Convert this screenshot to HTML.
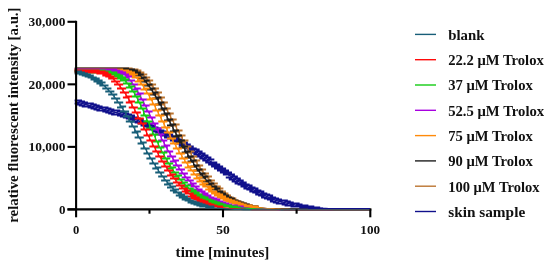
<!DOCTYPE html>
<html><head><meta charset="utf-8"><style>
html,body{margin:0;padding:0;background:#fff;}
svg{display:block;}
text{font-family:"Liberation Serif",serif;font-weight:bold;}
</style></head><body>
<svg width="550" height="264" viewBox="0 0 550 264">
<rect width="550" height="264" fill="#fff"/>
<path d="M67.5,209.4H371.4" stroke="#000" stroke-width="2.1" fill="none"/>
<defs><clipPath id="pc"><rect x="74.6" y="0" width="300" height="264"/></clipPath></defs>
<g clip-path="url(#pc)">
<g stroke="#10108c" fill="none">
<path d="M76.00,102.00 L78.94,102.74 L81.88,103.49 L84.82,104.25 L87.76,105.02 L90.70,105.79 L93.64,106.58 L96.58,107.37 L99.52,108.17 L102.46,108.97 L105.40,109.75 L108.34,110.52 L111.28,111.31 L114.22,112.11 L117.16,112.94 L120.10,113.81 L123.04,114.73 L125.98,115.72 L128.92,116.78 L131.86,117.94 L134.80,119.17 L137.74,120.47 L140.68,121.82 L143.62,123.23 L146.56,124.67 L149.50,126.15 L152.44,127.64 L155.38,129.14 L158.32,130.65 L161.26,132.14 L164.20,133.65 L167.14,135.18 L170.08,136.73 L173.02,138.30 L175.96,139.90 L178.90,141.52 L181.84,143.18 L184.78,144.87 L187.72,146.59 L190.66,148.34 L193.60,150.13 L196.54,151.97 L199.48,153.89 L202.42,155.89 L205.36,157.94 L208.30,160.02 L211.24,162.12 L214.18,164.22 L217.12,166.29 L220.06,168.41 L223.00,170.56 L225.94,172.72 L228.88,174.85 L231.82,176.95 L234.76,178.97 L237.70,180.91 L240.64,182.80 L243.58,184.60 L246.52,186.29 L249.46,187.86 L252.40,189.34 L255.34,190.78 L258.28,192.18 L261.22,193.59 L264.16,195.07 L267.10,196.55 L270.04,197.97 L272.98,199.23 L275.92,200.28 L278.86,201.15 L281.80,201.97 L284.74,202.73 L287.68,203.45 L290.62,204.11 L293.56,204.73 L296.50,205.30 L299.44,205.82 L302.38,206.29 L305.32,206.71 L308.26,207.10 L311.20,207.50 L314.14,207.87 L317.08,208.18 L320.02,208.40 L322.96,208.50 L325.90,208.52 L328.84,208.54 L331.78,208.56 L334.72,208.57 L337.66,208.58 L340.60,208.58 L343.54,208.59 L346.48,208.61 L349.42,208.62 L352.36,208.63 L355.30,208.64 L358.24,208.65 L361.18,208.66 L364.12,208.67 L367.06,208.68 L370.00,208.69" stroke-width="1.3"/>
<path d="M76.00,100.06V103.94M78.94,100.81V104.68M81.88,101.56V105.43M84.82,102.31V106.19M87.76,103.08V106.96M90.70,103.85V107.73M93.64,104.64V108.52M96.58,105.43V109.31M99.52,106.23V110.11M102.46,107.03V110.91M105.40,107.81V111.69M108.34,108.58V112.46M111.28,109.37V113.25M114.22,110.17V114.05M117.16,110.99V114.89M120.10,111.86V115.76M123.04,112.77V116.69M125.98,113.75V117.69M128.92,114.80V118.76M131.86,115.94V119.93M134.80,117.16V121.17M137.74,118.45V122.48M140.68,119.80V123.84M143.62,121.20V125.26M146.56,122.64V126.71M149.50,124.11V128.19M152.44,125.60V129.68M155.38,127.10V131.19M158.32,128.60V132.69M161.26,130.10V134.18M164.20,131.60V135.69M167.14,133.13V137.23M170.08,134.67V138.78M173.02,136.24V140.36M175.96,137.83V141.96M178.90,139.45V143.59M181.84,141.10V145.26M184.78,142.78V146.95M187.72,144.50V148.68M190.66,146.24V150.44M193.60,148.03V152.24M196.54,149.85V154.09M199.48,151.76V156.03M202.42,153.74V158.04M205.36,155.78V160.10M208.30,157.86V162.19M211.24,159.95V164.29M214.18,162.05V166.38M217.12,164.12V168.46M220.06,166.23V170.59M223.00,168.37V172.74M225.94,170.53V174.90M228.88,172.68V177.03M231.82,174.79V179.11M234.76,176.83V181.12M237.70,178.79V183.04M240.64,180.69V184.91M243.58,182.51V186.70M246.52,184.22V188.35M249.46,185.81V189.90M252.40,187.31V191.38M255.34,188.75V192.80M258.28,190.15V194.21M261.22,191.56V195.62M264.16,193.03V197.11M267.10,194.52V198.59M270.04,195.95V199.98M272.98,197.25V201.22M275.92,198.32V202.23M278.86,199.20V203.09M281.80,200.02V203.91M284.74,200.80V204.67M287.68,201.53V205.36M290.62,202.42V205.81M293.56,203.23V206.23M296.50,203.98V206.61M299.44,204.67V206.96M302.38,205.29V207.28M305.32,205.85V207.57M308.26,206.37V207.84M311.20,206.90V208.11M314.14,207.38V208.36M317.08,207.79V208.57M320.02,208.08V208.72" stroke-width="0.7"/>
<path d="M72.90,100.50h6.2M72.90,103.50h6.2M75.84,100.50h6.2M75.84,104.50h6.2M78.78,101.50h6.2M78.78,105.50h6.2M81.72,102.50h6.2M81.72,106.50h6.2M84.66,103.50h6.2M84.66,106.50h6.2M87.60,103.50h6.2M87.60,107.50h6.2M90.54,104.50h6.2M90.54,108.50h6.2M93.48,105.50h6.2M93.48,109.50h6.2M96.42,106.50h6.2M96.42,110.50h6.2M99.36,107.50h6.2M99.36,110.50h6.2M102.30,107.50h6.2M102.30,111.50h6.2M105.24,108.50h6.2M105.24,112.50h6.2M108.18,109.50h6.2M108.18,113.50h6.2M111.12,110.50h6.2M111.12,114.50h6.2M114.06,110.50h6.2M114.06,114.50h6.2M117.00,111.50h6.2M117.00,115.50h6.2M119.94,112.50h6.2M119.94,116.50h6.2M122.88,113.50h6.2M122.88,117.50h6.2M125.82,114.50h6.2M125.82,118.50h6.2M128.76,115.50h6.2M128.76,119.50h6.2M131.70,117.50h6.2M131.70,121.50h6.2M134.64,118.50h6.2M134.64,122.50h6.2M137.58,119.50h6.2M137.58,123.50h6.2M140.52,121.50h6.2M140.52,125.50h6.2M143.46,122.50h6.2M143.46,126.50h6.2M146.40,124.50h6.2M146.40,128.50h6.2M149.34,125.50h6.2M149.34,129.50h6.2M152.28,127.50h6.2M152.28,131.50h6.2M155.22,128.50h6.2M155.22,132.50h6.2M158.16,130.50h6.2M158.16,134.50h6.2M161.10,131.50h6.2M161.10,135.50h6.2M164.04,133.50h6.2M164.04,137.50h6.2M166.98,134.50h6.2M166.98,138.50h6.2M169.92,136.50h6.2M169.92,140.50h6.2M172.86,137.50h6.2M172.86,141.50h6.2M175.80,139.50h6.2M175.80,143.50h6.2M178.74,141.50h6.2M178.74,145.50h6.2M181.68,142.50h6.2M181.68,146.50h6.2M184.62,144.50h6.2M184.62,148.50h6.2M187.56,146.50h6.2M187.56,150.50h6.2M190.50,148.50h6.2M190.50,152.50h6.2M193.44,149.50h6.2M193.44,154.50h6.2M196.38,151.50h6.2M196.38,156.50h6.2M199.32,153.50h6.2M199.32,158.50h6.2M202.26,155.50h6.2M202.26,160.50h6.2M205.20,157.50h6.2M205.20,162.50h6.2M208.14,159.50h6.2M208.14,164.50h6.2M211.08,162.50h6.2M211.08,166.50h6.2M214.02,164.50h6.2M214.02,168.50h6.2M216.96,166.50h6.2M216.96,170.50h6.2M219.90,168.50h6.2M219.90,172.50h6.2M222.84,170.50h6.2M222.84,174.50h6.2M225.78,172.50h6.2M225.78,177.50h6.2M228.72,174.50h6.2M228.72,179.50h6.2M231.66,176.50h6.2M231.66,181.50h6.2M234.60,178.50h6.2M234.60,183.50h6.2M237.54,180.50h6.2M237.54,184.50h6.2M240.48,182.50h6.2M240.48,186.50h6.2M243.42,184.50h6.2M243.42,188.50h6.2M246.36,185.50h6.2M246.36,189.50h6.2M249.30,187.50h6.2M249.30,191.50h6.2M252.24,188.50h6.2M252.24,192.50h6.2M255.18,190.50h6.2M255.18,194.50h6.2M258.12,191.50h6.2M258.12,195.50h6.2M261.06,193.50h6.2M261.06,197.50h6.2M264.00,194.50h6.2M264.00,198.50h6.2M266.94,195.50h6.2M266.94,199.50h6.2M269.88,197.50h6.2M269.88,201.50h6.2M272.82,198.50h6.2M272.82,202.50h6.2M275.76,199.50h6.2M275.76,203.50h6.2M278.70,200.50h6.2M278.70,203.50h6.2M281.64,200.50h6.2M281.64,204.50h6.2M284.58,201.50h6.2M284.58,205.50h6.2M287.52,202.50h6.2M287.52,205.50h6.2M290.46,203.50h6.2M290.46,206.50h6.2M293.40,203.50h6.2M293.40,206.50h6.2M296.34,204.50h6.2M296.34,206.50h6.2M299.28,205.50h6.2M299.28,207.50h6.2M302.22,205.50h6.2M302.22,207.50h6.2M305.16,206.50h6.2M305.16,207.50h6.2M308.10,206.50h6.2M308.10,208.50h6.2M311.04,207.50h6.2M311.04,208.50h6.2M313.98,207.50h6.2M313.98,208.50h6.2M316.92,208.50h6.2M316.92,208.50h6.2" stroke-width="1.8"/>
</g>
<g stroke="#bb7430" fill="none">
<path d="M79.50,69.49 L82.44,69.49 L85.38,69.49 L88.32,69.49 L91.26,69.49 L94.20,69.49 L97.14,69.49 L100.08,69.49 L103.02,69.49 L105.96,69.49 L108.90,69.49 L111.84,69.49 L114.78,69.49 L117.72,69.49 L120.66,69.50 L123.60,69.51 L126.54,69.57 L129.48,69.72 L132.42,70.09 L135.36,70.82 L138.30,72.05 L141.24,73.88 L144.18,76.31 L147.12,79.31 L150.06,82.83 L153.00,86.81 L155.94,91.19 L158.88,95.90 L161.82,100.88 L164.76,106.09 L167.70,111.45 L170.64,116.92 L173.58,122.44 L176.52,127.97 L179.46,133.45 L182.40,138.85 L185.34,144.14 L188.28,149.27 L191.22,154.22 L194.16,158.96 L197.10,163.49 L200.04,167.77 L202.98,171.81 L205.92,175.59 L208.86,179.12 L211.80,182.39 L214.74,185.40 L217.68,188.17 L220.26,190.70 L222.77,192.99 L225.32,195.07 L227.91,196.94 L230.54,198.61 L233.20,200.11 L235.90,201.44 L238.62,202.61 L241.36,203.64 L244.14,204.55 L246.93,205.34 L249.74,206.02 L252.57,206.62 L255.41,207.13 L258.28,207.57 L261.22,207.94 L264.16,208.26 L267.10,208.53 L270.04,208.76 L272.98,208.95 L275.92,209.11 L278.86,209.24 L281.80,209.35 L284.74,209.44 L287.68,209.52 L290.62,209.58 L293.56,209.63 L296.50,209.67 L299.44,209.71 L302.38,209.73 L305.32,209.76 L308.26,209.77 L311.20,209.79 L314.14,209.80 L317.08,209.81 L320.02,209.81 L322.96,209.82 L325.90,209.82 L328.84,209.83 L331.78,209.83 L334.72,209.83 L337.66,209.83 L340.60,209.83 L343.54,209.83 L346.48,209.84 L349.42,209.84 L352.36,209.84 L355.30,209.84 L358.24,209.84 L361.18,209.84 L364.12,209.84 L367.06,209.84 L370.00,209.84" stroke-width="1.1"/>
<path d="M79.50,68.59V70.39M82.44,68.59V70.39M85.38,68.59V70.39M88.32,68.59V70.39M91.26,68.59V70.39M94.20,68.59V70.39M97.14,68.59V70.39M100.08,68.59V70.39M103.02,68.59V70.39M105.96,68.59V70.39M108.90,68.59V70.39M111.84,68.59V70.39M114.78,68.59V70.39M117.72,68.59V70.39M120.66,68.60V70.40M123.60,68.61V70.41M126.54,68.67V70.47M129.48,68.81V70.64M132.42,69.13V71.04M135.36,69.74V71.89M138.30,70.77V73.34M141.24,72.32V75.44M144.18,74.45V78.17M147.12,77.16V81.46M150.06,80.41V85.26M153.00,84.15V89.47M155.94,88.32V94.06M158.88,92.85V98.94M161.82,97.70V104.07M164.76,102.79V109.38M167.70,108.08V114.82M170.64,113.50V120.34M173.58,119.01V125.87M176.52,124.54V131.39M179.46,130.06V136.84M182.40,135.52V142.18M185.34,140.88V147.39M188.28,146.11V152.42M191.22,151.17V157.26M194.16,156.04V161.88M197.10,160.69V166.28M200.04,165.12V170.43M202.98,169.30V174.32M205.92,173.22V177.96M208.86,176.89V181.35M211.80,180.30V184.48M214.74,183.45V187.36M217.68,186.34V189.99M220.26,188.99V192.40M222.77,191.40V194.58M225.32,193.58V196.56M227.91,195.55V198.33M230.54,197.31V199.92M233.20,198.87V201.35M235.90,200.27V202.61M238.62,201.49V203.73M241.36,202.62V204.67M244.14,203.71V205.38M246.93,204.66V206.02M249.74,205.47V206.57M252.57,206.17V207.06M255.41,206.77V207.49" stroke-width="1.2"/>
<path d="M76.40,68.50h6.2M76.40,70.50h6.2M79.34,68.50h6.2M79.34,70.50h6.2M82.28,68.50h6.2M82.28,70.50h6.2M85.22,68.50h6.2M85.22,70.50h6.2M88.16,68.50h6.2M88.16,70.50h6.2M91.10,68.50h6.2M91.10,70.50h6.2M94.04,68.50h6.2M94.04,70.50h6.2M96.98,68.50h6.2M96.98,70.50h6.2M99.92,68.50h6.2M99.92,70.50h6.2M102.86,68.50h6.2M102.86,70.50h6.2M105.80,68.50h6.2M105.80,70.50h6.2M108.74,68.50h6.2M108.74,70.50h6.2M111.68,68.50h6.2M111.68,70.50h6.2M114.62,68.50h6.2M114.62,70.50h6.2M117.56,68.50h6.2M117.56,70.50h6.2M120.50,68.50h6.2M120.50,70.50h6.2M123.44,68.50h6.2M123.44,70.50h6.2M126.38,68.50h6.2M126.38,70.50h6.2M129.32,69.50h6.2M129.32,71.50h6.2M132.26,69.50h6.2M132.26,71.50h6.2M135.20,70.50h6.2M135.20,73.50h6.2M138.14,72.50h6.2M138.14,75.50h6.2M141.08,74.50h6.2M141.08,78.50h6.2M144.02,77.50h6.2M144.02,81.50h6.2M146.96,80.50h6.2M146.96,85.50h6.2M149.90,84.50h6.2M149.90,89.50h6.2M152.84,88.50h6.2M152.84,94.50h6.2M155.78,92.50h6.2M155.78,98.50h6.2M158.72,97.50h6.2M158.72,104.50h6.2M161.66,102.50h6.2M161.66,109.50h6.2M164.60,108.50h6.2M164.60,114.50h6.2M167.54,113.50h6.2M167.54,120.50h6.2M170.48,119.50h6.2M170.48,125.50h6.2M173.42,124.50h6.2M173.42,131.50h6.2M176.36,130.50h6.2M176.36,136.50h6.2M179.30,135.50h6.2M179.30,142.50h6.2M182.24,140.50h6.2M182.24,147.50h6.2M185.18,146.50h6.2M185.18,152.50h6.2M188.12,151.50h6.2M188.12,157.50h6.2M191.06,156.50h6.2M191.06,161.50h6.2M194.00,160.50h6.2M194.00,166.50h6.2M196.94,165.50h6.2M196.94,170.50h6.2M199.88,169.50h6.2M199.88,174.50h6.2M202.82,173.50h6.2M202.82,177.50h6.2M205.76,176.50h6.2M205.76,181.50h6.2M208.70,180.50h6.2M208.70,184.50h6.2M211.64,183.50h6.2M211.64,187.50h6.2M214.58,186.50h6.2M214.58,189.50h6.2M217.16,188.50h6.2M217.16,192.50h6.2M219.67,191.50h6.2M219.67,194.50h6.2M222.22,193.50h6.2M222.22,196.50h6.2M224.81,195.50h6.2M224.81,198.50h6.2M227.44,197.50h6.2M227.44,199.50h6.2M230.10,198.50h6.2M230.10,201.50h6.2M232.80,200.50h6.2M232.80,202.50h6.2M235.52,201.50h6.2M235.52,203.50h6.2M238.26,202.50h6.2M238.26,204.50h6.2M241.04,203.50h6.2M241.04,205.50h6.2M243.83,204.50h6.2M243.83,206.50h6.2M246.64,205.50h6.2M246.64,206.50h6.2M249.47,206.50h6.2M249.47,207.50h6.2M252.31,206.50h6.2M252.31,207.50h6.2" stroke-width="1.8"/>
</g>
<g stroke="#1e1e1e" fill="none">
<path d="M76.00,69.49 L78.94,69.49 L81.88,69.49 L84.82,69.49 L87.76,69.49 L90.70,69.49 L93.64,69.49 L96.58,69.49 L99.52,69.49 L102.46,69.49 L105.40,69.49 L108.34,69.49 L111.28,69.49 L114.22,69.49 L117.16,69.50 L120.10,69.51 L123.04,69.57 L125.98,69.72 L128.92,70.09 L131.86,70.82 L134.80,72.05 L137.74,73.88 L140.68,76.31 L143.62,79.31 L146.56,82.83 L149.50,86.81 L152.44,91.19 L155.38,95.90 L158.32,100.88 L161.26,106.09 L164.20,111.45 L167.14,116.92 L170.08,122.44 L173.02,127.97 L175.96,133.45 L178.90,138.85 L181.84,144.14 L184.78,149.27 L187.72,154.22 L190.66,158.96 L193.60,163.49 L196.54,167.77 L199.48,171.81 L202.42,175.59 L205.36,179.12 L208.30,182.39 L211.24,185.40 L214.18,188.17 L217.12,190.70 L220.06,192.99 L223.00,195.07 L225.94,196.94 L228.88,198.61 L231.82,200.11 L234.76,201.44 L237.70,202.61 L240.64,203.64 L243.58,204.55 L246.52,205.34 L249.46,206.02 L252.40,206.62 L255.34,207.13 L258.28,207.57 L261.22,207.94 L264.16,208.26 L267.10,208.53 L270.04,208.76 L272.98,208.95 L275.92,209.11 L278.86,209.24 L281.80,209.35 L284.74,209.44 L287.68,209.52 L290.62,209.58 L293.56,209.63 L296.50,209.67 L299.44,209.71 L302.38,209.73 L305.32,209.76 L308.26,209.77 L311.20,209.79 L314.14,209.80 L317.08,209.81 L320.02,209.81 L322.96,209.82 L325.90,209.82 L328.84,209.83 L331.78,209.83 L334.72,209.83 L337.66,209.83 L340.60,209.83 L343.54,209.83 L346.48,209.84 L349.42,209.84 L352.36,209.84 L355.30,209.84 L358.24,209.84 L361.18,209.84 L364.12,209.84 L367.06,209.84 L370.00,209.84" stroke-width="1.1"/>
<path d="M76.00,68.59V70.39M78.94,68.59V70.39M81.88,68.59V70.39M84.82,68.59V70.39M87.76,68.59V70.39M90.70,68.59V70.39M93.64,68.59V70.39M96.58,68.59V70.39M99.52,68.59V70.39M102.46,68.59V70.39M105.40,68.59V70.39M108.34,68.59V70.39M111.28,68.59V70.39M114.22,68.59V70.39M117.16,68.60V70.40M120.10,68.61V70.41M123.04,68.67V70.47M125.98,68.81V70.64M128.92,69.13V71.04M131.86,69.74V71.89M134.80,70.77V73.34M137.74,72.32V75.44M140.68,74.45V78.17M143.62,77.16V81.46M146.56,80.41V85.26M149.50,84.15V89.47M152.44,88.32V94.06M155.38,92.85V98.94M158.32,97.70V104.07M161.26,102.79V109.38M164.20,108.08V114.82M167.14,113.50V120.34M170.08,119.01V125.87M173.02,124.54V131.39M175.96,130.06V136.84M178.90,135.52V142.18M181.84,140.88V147.39M184.78,146.11V152.42M187.72,151.17V157.26M190.66,156.04V161.88M193.60,160.69V166.28M196.54,165.12V170.43M199.48,169.30V174.32M202.42,173.22V177.96M205.36,176.89V181.35M208.30,180.30V184.48M211.24,183.45V187.36M214.18,186.34V189.99M217.12,188.99V192.40M220.06,191.40V194.58M223.00,193.58V196.56M225.94,195.55V198.33M228.88,197.31V199.92M231.82,198.87V201.35M234.76,200.27V202.61M237.70,201.49V203.73M240.64,202.62V204.67M243.58,203.71V205.38M246.52,204.66V206.02M249.46,205.47V206.57M252.40,206.17V207.06M255.34,206.77V207.49" stroke-width="1.2"/>
<path d="M72.90,68.50h6.2M72.90,70.50h6.2M75.84,68.50h6.2M75.84,70.50h6.2M78.78,68.50h6.2M78.78,70.50h6.2M81.72,68.50h6.2M81.72,70.50h6.2M84.66,68.50h6.2M84.66,70.50h6.2M87.60,68.50h6.2M87.60,70.50h6.2M90.54,68.50h6.2M90.54,70.50h6.2M93.48,68.50h6.2M93.48,70.50h6.2M96.42,68.50h6.2M96.42,70.50h6.2M99.36,68.50h6.2M99.36,70.50h6.2M102.30,68.50h6.2M102.30,70.50h6.2M105.24,68.50h6.2M105.24,70.50h6.2M108.18,68.50h6.2M108.18,70.50h6.2M111.12,68.50h6.2M111.12,70.50h6.2M114.06,68.50h6.2M114.06,70.50h6.2M117.00,68.50h6.2M117.00,70.50h6.2M119.94,68.50h6.2M119.94,70.50h6.2M122.88,68.50h6.2M122.88,70.50h6.2M125.82,69.50h6.2M125.82,71.50h6.2M128.76,69.50h6.2M128.76,71.50h6.2M131.70,70.50h6.2M131.70,73.50h6.2M134.64,72.50h6.2M134.64,75.50h6.2M137.58,74.50h6.2M137.58,78.50h6.2M140.52,77.50h6.2M140.52,81.50h6.2M143.46,80.50h6.2M143.46,85.50h6.2M146.40,84.50h6.2M146.40,89.50h6.2M149.34,88.50h6.2M149.34,94.50h6.2M152.28,92.50h6.2M152.28,98.50h6.2M155.22,97.50h6.2M155.22,104.50h6.2M158.16,102.50h6.2M158.16,109.50h6.2M161.10,108.50h6.2M161.10,114.50h6.2M164.04,113.50h6.2M164.04,120.50h6.2M166.98,119.50h6.2M166.98,125.50h6.2M169.92,124.50h6.2M169.92,131.50h6.2M172.86,130.50h6.2M172.86,136.50h6.2M175.80,135.50h6.2M175.80,142.50h6.2M178.74,140.50h6.2M178.74,147.50h6.2M181.68,146.50h6.2M181.68,152.50h6.2M184.62,151.50h6.2M184.62,157.50h6.2M187.56,156.50h6.2M187.56,161.50h6.2M190.50,160.50h6.2M190.50,166.50h6.2M193.44,165.50h6.2M193.44,170.50h6.2M196.38,169.50h6.2M196.38,174.50h6.2M199.32,173.50h6.2M199.32,177.50h6.2M202.26,176.50h6.2M202.26,181.50h6.2M205.20,180.50h6.2M205.20,184.50h6.2M208.14,183.50h6.2M208.14,187.50h6.2M211.08,186.50h6.2M211.08,189.50h6.2M214.02,188.50h6.2M214.02,192.50h6.2M216.96,191.50h6.2M216.96,194.50h6.2M219.90,193.50h6.2M219.90,196.50h6.2M222.84,195.50h6.2M222.84,198.50h6.2M225.78,197.50h6.2M225.78,199.50h6.2M228.72,198.50h6.2M228.72,201.50h6.2M231.66,200.50h6.2M231.66,202.50h6.2M234.60,201.50h6.2M234.60,203.50h6.2M237.54,202.50h6.2M237.54,204.50h6.2M240.48,203.50h6.2M240.48,205.50h6.2M243.42,204.50h6.2M243.42,206.50h6.2M246.36,205.50h6.2M246.36,206.50h6.2M249.30,206.50h6.2M249.30,207.50h6.2M252.24,206.50h6.2M252.24,207.50h6.2" stroke-width="1.8"/>
</g>
<g stroke="#ff8a0a" fill="none">
<path d="M76.00,70.19 L78.94,70.19 L81.88,70.19 L84.82,70.19 L87.76,70.19 L90.70,70.19 L93.64,70.19 L96.58,70.19 L99.52,70.19 L102.46,70.19 L105.40,70.20 L108.34,70.21 L111.28,70.24 L114.22,70.30 L117.16,70.40 L120.10,70.60 L123.04,70.97 L125.98,71.60 L128.92,72.63 L131.86,74.18 L134.80,76.36 L137.74,79.21 L140.68,82.71 L143.62,86.82 L146.56,91.44 L149.50,96.46 L152.44,101.78 L155.38,107.32 L158.32,112.98 L161.26,118.70 L164.20,124.40 L167.14,130.05 L170.08,135.58 L173.02,140.96 L175.96,146.17 L178.90,151.17 L181.84,155.95 L184.78,160.50 L187.72,164.80 L190.66,168.84 L193.60,172.64 L196.54,176.18 L199.48,179.46 L202.42,182.51 L205.36,185.31 L208.30,187.89 L211.24,190.25 L214.18,192.40 L217.12,194.36 L220.06,196.13 L223.00,197.73 L225.94,199.17 L228.88,200.46 L231.82,201.62 L234.76,202.65 L237.70,203.57 L240.64,204.38 L243.58,205.10 L246.52,205.73 L249.46,206.29 L252.40,206.78 L255.34,207.21 L258.28,207.58 L261.22,207.90 L264.16,208.18 L267.10,208.43 L270.04,208.64 L272.98,208.82 L275.92,208.98 L278.86,209.11 L281.80,209.22 L284.74,209.32 L287.68,209.40 L290.62,209.47 L293.56,209.53 L296.50,209.58 L299.44,209.63 L302.38,209.66 L305.32,209.69 L308.26,209.72 L311.20,209.74 L314.14,209.76 L317.08,209.77 L320.02,209.78 L322.96,209.79 L325.90,209.80 L328.84,209.81 L331.78,209.81 L334.72,209.82 L337.66,209.82 L340.60,209.82 L343.54,209.83 L346.48,209.83 L349.42,209.83 L352.36,209.83 L355.30,209.83 L358.24,209.83 L361.18,209.83 L364.12,209.84 L367.06,209.84 L370.00,209.84" stroke-width="1.1"/>
<path d="M76.00,69.29V71.09M78.94,69.29V71.09M81.88,69.29V71.09M84.82,69.29V71.09M87.76,69.29V71.09M90.70,69.29V71.09M93.64,69.29V71.09M96.58,69.29V71.09M99.52,69.29V71.09M102.46,69.29V71.09M105.40,69.30V71.10M108.34,69.31V71.11M111.28,69.34V71.14M114.22,69.40V71.20M117.16,69.50V71.31M120.10,69.69V71.51M123.04,70.04V71.90M125.98,70.62V72.59M128.92,71.53V73.73M131.86,72.90V75.46M134.80,74.83V77.88M137.74,77.41V81.00M140.68,80.64V84.79M143.62,84.50V89.14M146.56,88.91V93.96M149.50,93.77V99.15M152.44,98.97V104.59M155.38,104.43V110.21M158.32,110.05V115.91M161.26,115.76V121.64M164.20,121.48V127.33M167.14,127.16V132.93M170.08,132.76V138.40M173.02,138.22V143.71M175.96,143.51V148.83M178.90,148.61V153.73M181.84,153.50V158.41M184.78,158.15V162.85M187.72,162.56V167.03M190.66,166.72V170.97M193.60,170.63V174.65M196.54,174.28V178.07M199.48,177.67V181.26M202.42,180.81V184.20M205.36,183.72V186.91M208.30,186.38V189.40M211.24,188.82V191.67M214.18,191.05V193.75M217.12,193.07V195.64M220.06,194.91V197.35M223.00,196.56V198.90M225.94,198.05V200.29M228.88,199.38V201.54M231.82,200.57V202.66M234.76,201.63V203.67M237.70,202.60V204.53M240.64,203.56V205.19M243.58,204.41V205.79M246.52,205.15V206.31M249.46,205.80V206.77M252.40,206.37V207.18M255.34,206.87V207.54" stroke-width="1.2"/>
<path d="M72.90,69.50h6.2M72.90,71.50h6.2M75.84,69.50h6.2M75.84,71.50h6.2M78.78,69.50h6.2M78.78,71.50h6.2M81.72,69.50h6.2M81.72,71.50h6.2M84.66,69.50h6.2M84.66,71.50h6.2M87.60,69.50h6.2M87.60,71.50h6.2M90.54,69.50h6.2M90.54,71.50h6.2M93.48,69.50h6.2M93.48,71.50h6.2M96.42,69.50h6.2M96.42,71.50h6.2M99.36,69.50h6.2M99.36,71.50h6.2M102.30,69.50h6.2M102.30,71.50h6.2M105.24,69.50h6.2M105.24,71.50h6.2M108.18,69.50h6.2M108.18,71.50h6.2M111.12,69.50h6.2M111.12,71.50h6.2M114.06,69.50h6.2M114.06,71.50h6.2M117.00,69.50h6.2M117.00,71.50h6.2M119.94,70.50h6.2M119.94,71.50h6.2M122.88,70.50h6.2M122.88,72.50h6.2M125.82,71.50h6.2M125.82,73.50h6.2M128.76,72.50h6.2M128.76,75.50h6.2M131.70,74.50h6.2M131.70,77.50h6.2M134.64,77.50h6.2M134.64,81.50h6.2M137.58,80.50h6.2M137.58,84.50h6.2M140.52,84.50h6.2M140.52,89.50h6.2M143.46,88.50h6.2M143.46,93.50h6.2M146.40,93.50h6.2M146.40,99.50h6.2M149.34,98.50h6.2M149.34,104.50h6.2M152.28,104.50h6.2M152.28,110.50h6.2M155.22,110.50h6.2M155.22,115.50h6.2M158.16,115.50h6.2M158.16,121.50h6.2M161.10,121.50h6.2M161.10,127.50h6.2M164.04,127.50h6.2M164.04,132.50h6.2M166.98,132.50h6.2M166.98,138.50h6.2M169.92,138.50h6.2M169.92,143.50h6.2M172.86,143.50h6.2M172.86,148.50h6.2M175.80,148.50h6.2M175.80,153.50h6.2M178.74,153.50h6.2M178.74,158.50h6.2M181.68,158.50h6.2M181.68,162.50h6.2M184.62,162.50h6.2M184.62,167.50h6.2M187.56,166.50h6.2M187.56,170.50h6.2M190.50,170.50h6.2M190.50,174.50h6.2M193.44,174.50h6.2M193.44,178.50h6.2M196.38,177.50h6.2M196.38,181.50h6.2M199.32,180.50h6.2M199.32,184.50h6.2M202.26,183.50h6.2M202.26,186.50h6.2M205.20,186.50h6.2M205.20,189.50h6.2M208.14,188.50h6.2M208.14,191.50h6.2M211.08,191.50h6.2M211.08,193.50h6.2M214.02,193.50h6.2M214.02,195.50h6.2M216.96,194.50h6.2M216.96,197.50h6.2M219.90,196.50h6.2M219.90,198.50h6.2M222.84,198.50h6.2M222.84,200.50h6.2M225.78,199.50h6.2M225.78,201.50h6.2M228.72,200.50h6.2M228.72,202.50h6.2M231.66,201.50h6.2M231.66,203.50h6.2M234.60,202.50h6.2M234.60,204.50h6.2M237.54,203.50h6.2M237.54,205.50h6.2M240.48,204.50h6.2M240.48,205.50h6.2M243.42,205.50h6.2M243.42,206.50h6.2M246.36,205.50h6.2M246.36,206.50h6.2M249.30,206.50h6.2M249.30,207.50h6.2M252.24,206.50h6.2M252.24,207.50h6.2" stroke-width="1.8"/>
</g>
<g stroke="#a800e0" fill="none">
<path d="M76.00,70.09 L78.94,70.09 L81.88,70.09 L84.82,70.09 L87.76,70.09 L90.70,70.09 L93.64,70.09 L96.58,70.10 L99.52,70.10 L102.46,70.12 L105.40,70.16 L108.34,70.24 L111.28,70.39 L114.22,70.69 L117.16,71.25 L120.10,72.19 L123.04,73.68 L125.98,75.83 L128.92,78.72 L131.86,82.34 L134.80,86.61 L137.74,91.45 L140.68,96.72 L143.62,102.32 L146.56,108.14 L149.50,114.09 L152.44,120.09 L155.38,126.06 L158.32,131.96 L161.26,137.72 L164.20,143.31 L167.14,148.69 L170.08,153.84 L173.02,158.73 L175.96,163.36 L178.90,167.72 L181.84,171.79 L184.78,175.58 L187.72,179.10 L190.66,182.34 L193.60,185.31 L196.54,188.03 L199.48,190.51 L202.42,192.76 L205.36,194.79 L208.30,196.62 L211.24,198.26 L214.18,199.73 L217.12,201.03 L220.06,202.19 L223.00,203.22 L225.94,204.12 L228.88,204.91 L231.82,205.61 L234.76,206.21 L237.70,206.74 L240.64,207.20 L243.58,207.60 L246.52,207.94 L249.46,208.23 L252.40,208.48 L255.34,208.70 L258.28,208.88 L261.22,209.04 L264.16,209.17 L267.10,209.28 L270.04,209.38 L272.98,209.45 L275.92,209.52 L278.86,209.58 L281.80,209.62 L284.74,209.66 L287.68,209.69 L290.62,209.72 L293.56,209.74 L296.50,209.76 L299.44,209.77 L302.38,209.79 L305.32,209.80 L308.26,209.80 L311.20,209.81 L314.14,209.82 L317.08,209.82 L320.02,209.82 L322.96,209.83 L325.90,209.83 L328.84,209.83 L331.78,209.83 L334.72,209.83 L337.66,209.83 L340.60,209.84 L343.54,209.84 L346.48,209.84 L349.42,209.84 L352.36,209.84 L355.30,209.84 L358.24,209.84 L361.18,209.84 L364.12,209.84 L367.06,209.84 L370.00,209.84" stroke-width="1.1"/>
<path d="M76.00,69.19V70.99M78.94,69.19V70.99M81.88,69.19V70.99M84.82,69.19V70.99M87.76,69.19V70.99M90.70,69.19V70.99M93.64,69.19V70.99M96.58,69.20V71.00M99.52,69.20V71.00M102.46,69.22V71.02M105.40,69.26V71.06M108.34,69.33V71.14M111.28,69.48V71.30M114.22,69.77V71.62M117.16,70.27V72.22M120.10,71.11V73.27M123.04,72.41V74.94M125.98,74.30V77.36M128.92,76.89V80.55M131.86,80.21V84.47M134.80,84.21V89.02M137.74,88.81V94.08M140.68,93.91V99.53M143.62,99.38V105.26M146.56,105.12V111.16M149.50,111.03V117.15M152.44,117.02V123.16M155.38,123.02V129.11M158.32,128.96V134.95M161.26,134.79V140.64M164.20,140.47V146.14M167.14,145.96V151.42M170.08,151.22V156.46M173.02,156.23V161.24M175.96,160.99V165.74M178.90,165.47V169.97M181.84,169.66V173.92M184.78,173.58V177.59M187.72,177.21V180.98M190.66,180.57V184.11M193.60,183.65V186.97M196.54,186.47V189.59M199.48,189.05V191.98M202.42,191.38V194.14M205.36,193.49V196.10M208.30,195.38V197.86M211.24,197.08V199.44M214.18,198.60V200.86M217.12,199.95V202.12M220.06,201.15V203.24M223.00,202.20V204.23M225.94,203.25V204.99M228.88,204.19V205.64M231.82,205.01V206.21M234.76,205.71V206.71M237.70,206.33V207.16M240.64,206.86V207.54" stroke-width="1.2"/>
<path d="M72.90,69.50h6.2M72.90,70.50h6.2M75.84,69.50h6.2M75.84,70.50h6.2M78.78,69.50h6.2M78.78,70.50h6.2M81.72,69.50h6.2M81.72,70.50h6.2M84.66,69.50h6.2M84.66,70.50h6.2M87.60,69.50h6.2M87.60,70.50h6.2M90.54,69.50h6.2M90.54,70.50h6.2M93.48,69.50h6.2M93.48,70.50h6.2M96.42,69.50h6.2M96.42,71.50h6.2M99.36,69.50h6.2M99.36,71.50h6.2M102.30,69.50h6.2M102.30,71.50h6.2M105.24,69.50h6.2M105.24,71.50h6.2M108.18,69.50h6.2M108.18,71.50h6.2M111.12,69.50h6.2M111.12,71.50h6.2M114.06,70.50h6.2M114.06,72.50h6.2M117.00,71.50h6.2M117.00,73.50h6.2M119.94,72.50h6.2M119.94,74.50h6.2M122.88,74.50h6.2M122.88,77.50h6.2M125.82,76.50h6.2M125.82,80.50h6.2M128.76,80.50h6.2M128.76,84.50h6.2M131.70,84.50h6.2M131.70,89.50h6.2M134.64,88.50h6.2M134.64,94.50h6.2M137.58,93.50h6.2M137.58,99.50h6.2M140.52,99.50h6.2M140.52,105.50h6.2M143.46,105.50h6.2M143.46,111.50h6.2M146.40,111.50h6.2M146.40,117.50h6.2M149.34,117.50h6.2M149.34,123.50h6.2M152.28,123.50h6.2M152.28,129.50h6.2M155.22,128.50h6.2M155.22,134.50h6.2M158.16,134.50h6.2M158.16,140.50h6.2M161.10,140.50h6.2M161.10,146.50h6.2M164.04,145.50h6.2M164.04,151.50h6.2M166.98,151.50h6.2M166.98,156.50h6.2M169.92,156.50h6.2M169.92,161.50h6.2M172.86,160.50h6.2M172.86,165.50h6.2M175.80,165.50h6.2M175.80,169.50h6.2M178.74,169.50h6.2M178.74,173.50h6.2M181.68,173.50h6.2M181.68,177.50h6.2M184.62,177.50h6.2M184.62,180.50h6.2M187.56,180.50h6.2M187.56,184.50h6.2M190.50,183.50h6.2M190.50,186.50h6.2M193.44,186.50h6.2M193.44,189.50h6.2M196.38,189.50h6.2M196.38,191.50h6.2M199.32,191.50h6.2M199.32,194.50h6.2M202.26,193.50h6.2M202.26,196.50h6.2M205.20,195.50h6.2M205.20,197.50h6.2M208.14,197.50h6.2M208.14,199.50h6.2M211.08,198.50h6.2M211.08,200.50h6.2M214.02,199.50h6.2M214.02,202.50h6.2M216.96,201.50h6.2M216.96,203.50h6.2M219.90,202.50h6.2M219.90,204.50h6.2M222.84,203.50h6.2M222.84,204.50h6.2M225.78,204.50h6.2M225.78,205.50h6.2M228.72,205.50h6.2M228.72,206.50h6.2M231.66,205.50h6.2M231.66,206.50h6.2M234.60,206.50h6.2M234.60,207.50h6.2M237.54,206.50h6.2M237.54,207.50h6.2" stroke-width="1.8"/>
</g>
<g stroke="#14cc14" fill="none">
<path d="M76.00,70.99 L78.94,71.00 L81.88,71.01 L84.82,71.04 L87.76,71.07 L90.70,71.12 L93.64,71.19 L96.58,71.29 L99.52,71.44 L102.46,71.65 L105.40,71.96 L108.34,72.41 L111.28,73.04 L114.22,73.93 L117.16,75.14 L120.10,76.78 L123.04,78.95 L125.98,81.72 L128.92,85.17 L131.86,89.32 L134.80,94.16 L137.74,99.61 L140.68,105.56 L143.62,111.88 L146.56,118.42 L149.50,125.03 L152.44,131.59 L155.38,138.00 L158.32,144.18 L161.26,150.06 L164.20,155.60 L167.14,160.80 L170.08,165.62 L173.02,170.08 L175.96,174.18 L178.90,177.93 L181.84,181.35 L184.78,184.46 L187.72,187.27 L190.66,189.80 L193.60,192.09 L196.54,194.14 L199.48,195.98 L202.42,197.62 L205.36,199.08 L208.30,200.39 L211.24,201.54 L214.18,202.57 L217.12,203.48 L220.06,204.28 L223.00,204.99 L225.94,205.61 L228.88,206.16 L231.82,206.64 L234.76,207.06 L237.70,207.43 L240.64,207.75 L243.58,208.03 L246.52,208.28 L249.46,208.49 L252.40,208.67 L255.34,208.84 L258.28,208.98 L261.22,209.10 L264.16,209.20 L267.10,209.29 L270.04,209.37 L272.98,209.44 L275.92,209.49 L278.86,209.54 L281.80,209.59 L284.74,209.62 L287.68,209.66 L290.62,209.68 L293.56,209.71 L296.50,209.73 L299.44,209.74 L302.38,209.76 L305.32,209.77 L308.26,209.78 L311.20,209.79 L314.14,209.80 L317.08,209.80 L320.02,209.81 L322.96,209.81 L325.90,209.82 L328.84,209.82 L331.78,209.82 L334.72,209.83 L337.66,209.83 L340.60,209.83 L343.54,209.83 L346.48,209.83 L349.42,209.83 L352.36,209.83 L355.30,209.83 L358.24,209.83 L361.18,209.84 L364.12,209.84 L367.06,209.84 L370.00,209.84" stroke-width="1.1"/>
<path d="M76.00,70.09V71.89M78.94,70.10V71.90M81.88,70.11V71.91M84.82,70.14V71.94M87.76,70.17V71.97M90.70,70.22V72.02M93.64,70.28V72.09M96.58,70.39V72.19M99.52,70.53V72.34M102.46,70.74V72.56M105.40,71.05V72.88M108.34,71.47V73.35M111.28,72.07V74.02M114.22,72.89V74.96M117.16,74.00V76.28M120.10,75.49V78.08M123.04,77.44V80.45M125.98,79.95V83.49M128.92,83.10V87.24M131.86,86.94V91.70M134.80,91.48V96.83M137.74,96.67V102.54M140.68,102.42V108.70M143.62,108.61V115.16M146.56,115.07V121.76M149.50,121.68V128.38M152.44,128.29V134.90M155.38,134.79V141.21M158.32,141.09V147.26M161.26,147.12V153.00M164.20,152.82V158.39M167.14,158.18V163.41M170.08,163.18V168.07M173.02,167.80V172.36M175.96,172.06V176.30M178.90,175.96V179.90M181.84,179.52V183.18M184.78,182.75V186.16M187.72,185.68V188.86M190.66,188.32V191.29M193.60,190.70V193.48M196.54,192.83V195.45M199.48,194.74V197.22M202.42,196.44V198.80M205.36,197.96V200.21M208.30,199.30V201.47M211.24,200.50V202.59M214.18,201.55V203.59M217.12,202.50V204.46M220.06,203.45V205.11M223.00,204.28V205.69M225.94,205.01V206.21M228.88,205.65V206.66M231.82,206.21V207.06M234.76,206.70V207.42M237.70,207.13V207.73" stroke-width="1.2"/>
<path d="M72.90,70.50h6.2M72.90,71.50h6.2M75.84,70.50h6.2M75.84,71.50h6.2M78.78,70.50h6.2M78.78,71.50h6.2M81.72,70.50h6.2M81.72,71.50h6.2M84.66,70.50h6.2M84.66,71.50h6.2M87.60,70.50h6.2M87.60,72.50h6.2M90.54,70.50h6.2M90.54,72.50h6.2M93.48,70.50h6.2M93.48,72.50h6.2M96.42,70.50h6.2M96.42,72.50h6.2M99.36,70.50h6.2M99.36,72.50h6.2M102.30,71.50h6.2M102.30,72.50h6.2M105.24,71.50h6.2M105.24,73.50h6.2M108.18,72.50h6.2M108.18,74.50h6.2M111.12,72.50h6.2M111.12,74.50h6.2M114.06,74.50h6.2M114.06,76.50h6.2M117.00,75.50h6.2M117.00,78.50h6.2M119.94,77.50h6.2M119.94,80.50h6.2M122.88,79.50h6.2M122.88,83.50h6.2M125.82,83.50h6.2M125.82,87.50h6.2M128.76,86.50h6.2M128.76,91.50h6.2M131.70,91.50h6.2M131.70,96.50h6.2M134.64,96.50h6.2M134.64,102.50h6.2M137.58,102.50h6.2M137.58,108.50h6.2M140.52,108.50h6.2M140.52,115.50h6.2M143.46,115.50h6.2M143.46,121.50h6.2M146.40,121.50h6.2M146.40,128.50h6.2M149.34,128.50h6.2M149.34,134.50h6.2M152.28,134.50h6.2M152.28,141.50h6.2M155.22,141.50h6.2M155.22,147.50h6.2M158.16,147.50h6.2M158.16,152.50h6.2M161.10,152.50h6.2M161.10,158.50h6.2M164.04,158.50h6.2M164.04,163.50h6.2M166.98,163.50h6.2M166.98,168.50h6.2M169.92,167.50h6.2M169.92,172.50h6.2M172.86,172.50h6.2M172.86,176.50h6.2M175.80,175.50h6.2M175.80,179.50h6.2M178.74,179.50h6.2M178.74,183.50h6.2M181.68,182.50h6.2M181.68,186.50h6.2M184.62,185.50h6.2M184.62,188.50h6.2M187.56,188.50h6.2M187.56,191.50h6.2M190.50,190.50h6.2M190.50,193.50h6.2M193.44,192.50h6.2M193.44,195.50h6.2M196.38,194.50h6.2M196.38,197.50h6.2M199.32,196.50h6.2M199.32,198.50h6.2M202.26,197.50h6.2M202.26,200.50h6.2M205.20,199.50h6.2M205.20,201.50h6.2M208.14,200.50h6.2M208.14,202.50h6.2M211.08,201.50h6.2M211.08,203.50h6.2M214.02,202.50h6.2M214.02,204.50h6.2M216.96,203.50h6.2M216.96,205.50h6.2M219.90,204.50h6.2M219.90,205.50h6.2M222.84,205.50h6.2M222.84,206.50h6.2M225.78,205.50h6.2M225.78,206.50h6.2M228.72,206.50h6.2M228.72,207.50h6.2M231.66,206.50h6.2M231.66,207.50h6.2M234.60,207.50h6.2M234.60,207.50h6.2" stroke-width="1.8"/>
</g>
<g stroke="#ff0a0a" fill="none">
<path d="M76.00,71.29 L78.94,71.29 L81.88,71.30 L84.82,71.32 L87.76,71.35 L90.70,71.42 L93.64,71.56 L96.58,71.81 L99.52,72.24 L102.46,72.94 L105.40,73.98 L108.34,75.46 L111.28,77.42 L114.22,79.90 L117.16,82.90 L120.10,86.40 L123.04,90.38 L125.98,94.77 L128.92,99.53 L131.86,104.60 L134.80,109.91 L137.74,115.40 L140.68,121.02 L143.62,126.70 L146.56,132.38 L149.50,138.02 L152.44,143.57 L155.38,148.98 L158.32,154.21 L161.26,159.24 L164.20,164.04 L167.14,168.58 L170.08,172.85 L173.02,176.83 L175.96,180.53 L178.90,183.94 L181.84,187.07 L184.78,189.92 L187.72,192.49 L190.66,194.81 L193.60,196.88 L196.54,198.72 L199.48,200.34 L202.42,201.77 L205.36,203.02 L208.30,204.10 L211.24,205.03 L214.18,205.83 L217.12,206.52 L220.06,207.10 L223.00,207.59 L225.94,208.00 L228.88,208.35 L231.82,208.63 L234.76,208.87 L237.70,209.06 L240.64,209.22 L243.58,209.35 L246.52,209.45 L249.46,209.53 L252.40,209.60 L255.34,209.65 L258.28,209.70 L261.22,209.73 L264.16,209.75 L267.10,209.77 L270.04,209.79 L272.98,209.80 L275.92,209.81 L278.86,209.82 L281.80,209.82 L284.74,209.83 L287.68,209.83 L290.62,209.83 L293.56,209.83 L296.50,209.83 L299.44,209.84 L302.38,209.84 L305.32,209.84 L308.26,209.84 L311.20,209.84 L314.14,209.84 L317.08,209.84 L320.02,209.84 L322.96,209.84 L325.90,209.84 L328.84,209.84 L331.78,209.84 L334.72,209.84 L337.66,209.84 L340.60,209.84 L343.54,209.84 L346.48,209.84 L349.42,209.84 L352.36,209.84 L355.30,209.84 L358.24,209.84 L361.18,209.84 L364.12,209.84 L367.06,209.84 L370.00,209.84" stroke-width="1.1"/>
<path d="M76.00,70.39V72.19M78.94,70.39V72.19M81.88,70.40V72.20M84.82,70.42V72.22M87.76,70.45V72.25M90.70,70.52V72.33M93.64,70.66V72.47M96.58,70.90V72.73M99.52,71.30V73.19M102.46,71.94V73.93M105.40,72.89V75.08M108.34,74.23V76.69M111.28,76.01V78.83M114.22,78.28V81.51M117.16,81.07V84.73M120.10,84.36V88.44M123.04,88.14V92.61M125.98,92.35V97.19M128.92,96.96V102.10M131.86,101.90V107.29M134.80,107.11V112.70M137.74,112.53V118.27M140.68,118.11V123.93M143.62,123.77V129.62M146.56,129.46V135.30M149.50,135.14V140.91M152.44,140.74V146.40M155.38,146.22V151.74M158.32,151.54V156.89M161.26,156.67V161.81M164.20,161.58V166.50M167.14,166.24V170.92M170.08,170.63V175.06M173.02,174.75V178.92M175.96,178.57V182.49M178.90,182.11V185.78M181.84,185.35V188.79M184.78,188.31V191.52M187.72,190.99V193.99M190.66,193.40V196.21M193.60,195.56V198.19M196.54,197.48V199.95M199.48,199.17V201.51M202.42,200.66V202.88M205.36,201.95V204.08M208.30,203.19V205.00M211.24,204.31V205.76M214.18,205.26V206.41M217.12,206.06V206.98M220.06,206.74V207.46" stroke-width="1.2"/>
<path d="M72.90,70.50h6.2M72.90,72.50h6.2M75.84,70.50h6.2M75.84,72.50h6.2M78.78,70.50h6.2M78.78,72.50h6.2M81.72,70.50h6.2M81.72,72.50h6.2M84.66,70.50h6.2M84.66,72.50h6.2M87.60,70.50h6.2M87.60,72.50h6.2M90.54,70.50h6.2M90.54,72.50h6.2M93.48,70.50h6.2M93.48,72.50h6.2M96.42,71.50h6.2M96.42,73.50h6.2M99.36,71.50h6.2M99.36,73.50h6.2M102.30,72.50h6.2M102.30,75.50h6.2M105.24,74.50h6.2M105.24,76.50h6.2M108.18,76.50h6.2M108.18,78.50h6.2M111.12,78.50h6.2M111.12,81.50h6.2M114.06,81.50h6.2M114.06,84.50h6.2M117.00,84.50h6.2M117.00,88.50h6.2M119.94,88.50h6.2M119.94,92.50h6.2M122.88,92.50h6.2M122.88,97.50h6.2M125.82,96.50h6.2M125.82,102.50h6.2M128.76,101.50h6.2M128.76,107.50h6.2M131.70,107.50h6.2M131.70,112.50h6.2M134.64,112.50h6.2M134.64,118.50h6.2M137.58,118.50h6.2M137.58,123.50h6.2M140.52,123.50h6.2M140.52,129.50h6.2M143.46,129.50h6.2M143.46,135.50h6.2M146.40,135.50h6.2M146.40,140.50h6.2M149.34,140.50h6.2M149.34,146.50h6.2M152.28,146.50h6.2M152.28,151.50h6.2M155.22,151.50h6.2M155.22,156.50h6.2M158.16,156.50h6.2M158.16,161.50h6.2M161.10,161.50h6.2M161.10,166.50h6.2M164.04,166.50h6.2M164.04,170.50h6.2M166.98,170.50h6.2M166.98,175.50h6.2M169.92,174.50h6.2M169.92,178.50h6.2M172.86,178.50h6.2M172.86,182.50h6.2M175.80,182.50h6.2M175.80,185.50h6.2M178.74,185.50h6.2M178.74,188.50h6.2M181.68,188.50h6.2M181.68,191.50h6.2M184.62,190.50h6.2M184.62,193.50h6.2M187.56,193.50h6.2M187.56,196.50h6.2M190.50,195.50h6.2M190.50,198.50h6.2M193.44,197.50h6.2M193.44,199.50h6.2M196.38,199.50h6.2M196.38,201.50h6.2M199.32,200.50h6.2M199.32,202.50h6.2M202.26,201.50h6.2M202.26,204.50h6.2M205.20,203.50h6.2M205.20,205.50h6.2M208.14,204.50h6.2M208.14,205.50h6.2M211.08,205.50h6.2M211.08,206.50h6.2M214.02,206.50h6.2M214.02,206.50h6.2M216.96,206.50h6.2M216.96,207.50h6.2" stroke-width="1.8"/>
</g>
<g stroke="#185e78" fill="none">
<path d="M76.00,72.06 L78.94,72.73 L81.88,73.53 L84.82,74.47 L87.76,75.57 L90.70,76.87 L93.64,78.37 L96.58,80.11 L99.52,82.10 L102.46,84.38 L105.40,86.96 L108.34,89.85 L111.28,93.07 L114.22,96.62 L117.16,100.50 L120.10,104.69 L123.04,109.18 L125.98,113.94 L128.92,118.93 L131.86,124.10 L134.80,129.41 L137.74,134.80 L140.68,140.21 L143.62,145.59 L146.56,150.89 L149.50,156.05 L152.44,161.03 L155.38,165.79 L158.32,170.30 L161.26,174.54 L164.20,178.48 L167.14,182.13 L170.08,185.48 L173.02,188.52 L175.96,191.28 L178.90,193.75 L181.84,195.96 L184.78,197.91 L187.72,199.64 L190.66,201.15 L193.60,202.46 L196.54,203.61 L199.48,204.59 L202.42,205.44 L205.36,206.16 L208.30,206.78 L211.24,207.30 L214.18,207.74 L217.12,208.11 L220.06,208.42 L223.00,208.68 L225.94,208.89 L228.88,209.07 L231.82,209.21 L234.76,209.33 L237.70,209.43 L240.64,209.51 L243.58,209.58 L246.52,209.63 L249.46,209.67 L252.40,209.71 L255.34,209.73 L258.28,209.75 L261.22,209.77 L264.16,209.79 L267.10,209.80 L270.04,209.81 L272.98,209.81 L275.92,209.82 L278.86,209.82 L281.80,209.83 L284.74,209.83 L287.68,209.83 L290.62,209.83 L293.56,209.83 L296.50,209.83 L299.44,209.84 L302.38,209.84 L305.32,209.84 L308.26,209.84 L311.20,209.84 L314.14,209.84 L317.08,209.84 L320.02,209.84 L322.96,209.84 L325.90,209.84 L328.84,209.84 L331.78,209.84 L334.72,209.84 L337.66,209.84 L340.60,209.84 L343.54,209.84 L346.48,209.84 L349.42,209.84 L352.36,209.84 L355.30,209.84 L358.24,209.84 L361.18,209.84 L364.12,209.84 L367.06,209.84 L370.00,209.84" stroke-width="1.1"/>
<path d="M76.00,71.10V73.02M78.94,71.76V73.70M81.88,72.53V74.52M84.82,73.44V75.50M87.76,74.50V76.65M90.70,75.73V78.00M93.64,77.17V79.57M96.58,78.82V81.39M99.52,80.72V83.48M102.46,82.89V85.87M105.40,85.34V88.57M108.34,88.10V91.60M111.28,91.18V94.96M114.22,94.59V98.65M117.16,98.32V102.67M120.10,102.38V107.00M123.04,106.74V111.62M125.98,111.39V116.49M128.92,116.28V121.57M131.86,121.38V126.82M134.80,126.64V132.18M137.74,132.00V137.59M140.68,137.41V143.00M143.62,142.82V148.36M146.56,148.17V153.60M149.50,153.40V158.69M152.44,158.48V163.58M155.38,163.34V168.23M158.32,167.97V172.62M161.26,172.34V176.73M164.20,176.42V180.55M167.14,180.20V184.07M170.08,183.67V187.28M173.02,186.84V190.21M175.96,189.71V192.84M178.90,192.29V195.21M181.84,194.60V197.32M184.78,196.64V199.19M187.72,198.44V200.84M190.66,200.01V202.28M193.60,201.38V203.55M196.54,202.60V204.61M199.48,203.79V205.40M202.42,204.79V206.09M205.36,205.65V206.68M208.30,206.37V207.19M211.24,206.97V207.63" stroke-width="1.2"/>
<path d="M72.90,71.50h6.2M72.90,73.50h6.2M75.84,71.50h6.2M75.84,73.50h6.2M78.78,72.50h6.2M78.78,74.50h6.2M81.72,73.50h6.2M81.72,75.50h6.2M84.66,74.50h6.2M84.66,76.50h6.2M87.60,75.50h6.2M87.60,77.50h6.2M90.54,77.50h6.2M90.54,79.50h6.2M93.48,78.50h6.2M93.48,81.50h6.2M96.42,80.50h6.2M96.42,83.50h6.2M99.36,82.50h6.2M99.36,85.50h6.2M102.30,85.50h6.2M102.30,88.50h6.2M105.24,88.50h6.2M105.24,91.50h6.2M108.18,91.50h6.2M108.18,94.50h6.2M111.12,94.50h6.2M111.12,98.50h6.2M114.06,98.50h6.2M114.06,102.50h6.2M117.00,102.50h6.2M117.00,107.50h6.2M119.94,106.50h6.2M119.94,111.50h6.2M122.88,111.50h6.2M122.88,116.50h6.2M125.82,116.50h6.2M125.82,121.50h6.2M128.76,121.50h6.2M128.76,126.50h6.2M131.70,126.50h6.2M131.70,132.50h6.2M134.64,131.50h6.2M134.64,137.50h6.2M137.58,137.50h6.2M137.58,143.50h6.2M140.52,142.50h6.2M140.52,148.50h6.2M143.46,148.50h6.2M143.46,153.50h6.2M146.40,153.50h6.2M146.40,158.50h6.2M149.34,158.50h6.2M149.34,163.50h6.2M152.28,163.50h6.2M152.28,168.50h6.2M155.22,167.50h6.2M155.22,172.50h6.2M158.16,172.50h6.2M158.16,176.50h6.2M161.10,176.50h6.2M161.10,180.50h6.2M164.04,180.50h6.2M164.04,184.50h6.2M166.98,183.50h6.2M166.98,187.50h6.2M169.92,186.50h6.2M169.92,190.50h6.2M172.86,189.50h6.2M172.86,192.50h6.2M175.80,192.50h6.2M175.80,195.50h6.2M178.74,194.50h6.2M178.74,197.50h6.2M181.68,196.50h6.2M181.68,199.50h6.2M184.62,198.50h6.2M184.62,200.50h6.2M187.56,200.50h6.2M187.56,202.50h6.2M190.50,201.50h6.2M190.50,203.50h6.2M193.44,202.50h6.2M193.44,204.50h6.2M196.38,203.50h6.2M196.38,205.50h6.2M199.32,204.50h6.2M199.32,206.50h6.2M202.26,205.50h6.2M202.26,206.50h6.2M205.20,206.50h6.2M205.20,207.50h6.2M208.14,206.50h6.2M208.14,207.50h6.2" stroke-width="1.8"/>
</g>
</g>
<g stroke="#000" stroke-width="2.1" fill="none">
<path d="M76.1,20.8V217.3"/>
<path d="M67.5,21.8H76"/>
<path d="M67.5,84.33H76"/>
<path d="M67.5,146.87H76"/>
<path d="M67.5,209.4H76"/>
<path d="M223,209.4V217.3"/>
<path d="M370.3,209.4V217.3"/>
<path d="M149.5,209.4V213.7"/>
<path d="M296.6,209.4V213.7"/>
</g>
<g fill="#111">
<text x="65.5" y="26.10" text-anchor="end" font-size="13" textLength="36.9" lengthAdjust="spacingAndGlyphs">30,000</text>
<text x="65.5" y="88.63" text-anchor="end" font-size="13" textLength="36.9" lengthAdjust="spacingAndGlyphs">20,000</text>
<text x="65.5" y="151.17" text-anchor="end" font-size="13" textLength="36.9" lengthAdjust="spacingAndGlyphs">10,000</text>
<text x="65.5" y="213.70" text-anchor="end" font-size="13">0</text>
<text x="72.95" y="233.6" font-size="13" textLength="6.3" lengthAdjust="spacingAndGlyphs">0</text>
<text x="216.20" y="233.6" font-size="13" textLength="13.6" lengthAdjust="spacingAndGlyphs">50</text>
<text x="360.35" y="233.6" font-size="13" textLength="19.7" lengthAdjust="spacingAndGlyphs">100</text>
<text x="175.6" y="256.8" font-size="13.8" textLength="93.8" lengthAdjust="spacingAndGlyphs">time [minutes]</text>
<text transform="translate(17.8,222.7) rotate(-90)" font-size="13.8" textLength="215.2" lengthAdjust="spacingAndGlyphs">relative fluorescent intensity [a.u.]</text>
<path d="M415,34.40H436" stroke="#185e78" stroke-width="1.4"/>
<text x="448.2" y="39.80" font-size="13.6" textLength="36.3" lengthAdjust="spacingAndGlyphs">blank</text>
<path d="M415,59.70H436" stroke="#ff0a0a" stroke-width="1.4"/>
<text x="448.2" y="65.10" font-size="13.6" textLength="95.6" lengthAdjust="spacingAndGlyphs">22.2 μM Trolox</text>
<path d="M415,85.00H436" stroke="#14cc14" stroke-width="1.4"/>
<text x="448.2" y="90.40" font-size="13.6" textLength="84.6" lengthAdjust="spacingAndGlyphs">37 μM Trolox</text>
<path d="M415,110.30H436" stroke="#a800e0" stroke-width="1.4"/>
<text x="448.2" y="115.70" font-size="13.6" textLength="96" lengthAdjust="spacingAndGlyphs">52.5 μM Trolox</text>
<path d="M415,135.60H436" stroke="#ff8a0a" stroke-width="1.4"/>
<text x="448.2" y="141.00" font-size="13.6" textLength="84.6" lengthAdjust="spacingAndGlyphs">75 μM Trolox</text>
<path d="M415,160.90H436" stroke="#1e1e1e" stroke-width="1.4"/>
<text x="448.2" y="166.30" font-size="13.6" textLength="84.6" lengthAdjust="spacingAndGlyphs">90 μM Trolox</text>
<path d="M415,186.20H436" stroke="#bb7430" stroke-width="1.4"/>
<text x="448.2" y="191.60" font-size="13.6" textLength="91.4" lengthAdjust="spacingAndGlyphs">100 μM Trolox</text>
<path d="M415,211.50H436" stroke="#10108c" stroke-width="1.4"/>
<text x="448.2" y="216.90" font-size="13.6" textLength="77" lengthAdjust="spacingAndGlyphs">skin sample</text>
</g>
</svg>
</body></html>
